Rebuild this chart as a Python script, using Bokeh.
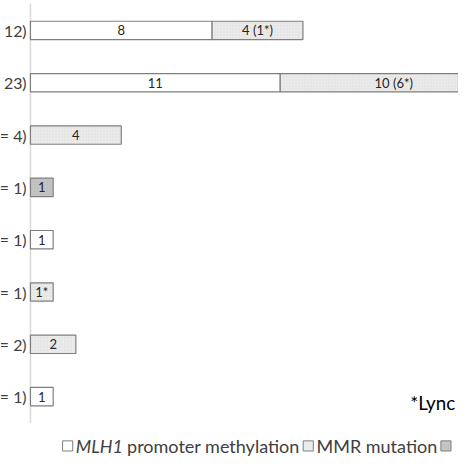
from bokeh.plotting import figure
from bokeh.models import Range1d, ColumnDataSource
from bokeh.core.properties import value
from bokeh.embed import file_html
from bokeh.resources import INLINE

# ---- data ----
categories = ["12)", "23)", "= 4)", "= 1)", "= 1)", "= 1)", "= 2)", "= 1)"]
methylation = [8, 11, 0, 0, 1, 0, 0, 1]
methylation_labels = ["8", "11", "", "", "1", "", "", "1"]
mmr_mutation = [4, 10, 4, 0, 0, 1, 2, 0]
mmr_labels = ["4 (1*)", "10 (6*)", "4", "", "", "1*", "2", ""]
third_series = [0, 0, 0, 1, 0, 0, 0, 0]
third_labels = ["", "", "", "1", "", "", "", ""]
legend_labels = ["MLH1", "promoter methylation", "MMR mutation"]
note_text = "*Lync"

W = H = 458
S = W / 474.0
UX = 23.5      # reference px per unit
UY = 54.14     # reference px per row
X0 = 31.0
Y0 = 31.0

def dx(rx):
    return (rx - X0) / UX

def dy(ry):
    return (ry - Y0) / UY

FONT = "Lato"
TXT = "#404040"

p = figure(width=W, height=H, output_backend="svg", toolbar_location=None,
           x_range=Range1d(dx(0), dx(474)), y_range=Range1d(dy(474), dy(0)),
           x_axis_location=None, y_axis_location=None, min_border=0,
           outline_line_color=None, background_fill_color="white")
p.xgrid.visible = False
p.ygrid.visible = False

# axis line
p.segment(x0=[0], y0=[dy(3)], x1=[0], y1=[dy(437)], line_color="#d9d9d9", line_width=1.5)

rows = list(range(len(categories)))
bh = 19 / UY

def add_series(vals, labels, lefts, fill, hatch=None):
    src = dict(y=[], left=[], right=[], mid=[], lab=[])
    for i, v, l, lf in zip(rows, vals, labels, lefts):
        if v > 0:
            src["y"].append(i)
            src["left"].append(lf)
            src["right"].append(lf + v)
            src["mid"].append(lf + v / 2)
            src["lab"].append(l)
    cds = ColumnDataSource(src)
    kw = {}
    if hatch:
        kw = dict(hatch_pattern="dot", hatch_color=hatch, hatch_scale=3, hatch_alpha=0.35)
    p.hbar(y="y", left="left", right="right", height=bh, source=cds,
           fill_color=fill, line_color="#7f7f7f", line_width=1.2, **kw)
    p.text(x="mid", y="y", text="lab", source=cds, text_align="center",
           text_baseline="middle", text_font=value(FONT), text_font_size=f"{13.5*S:.1f}px",
           text_color="#262626")

zeros = [0] * len(rows)
add_series(methylation, methylation_labels, zeros, "white")
add_series(mmr_mutation, mmr_labels, methylation, "#ebebeb", "#c0c0c0")
add_series(third_series, third_labels, [m + r for m, r in zip(methylation, mmr_mutation)], "#c4c4c4", "#a0a0a0")

# category labels
p.text(x=[dx(27)] * len(rows), y=rows, text=categories, text_align="right",
       text_baseline="middle", text_font=value(FONT), text_font_size=f"{16.5*S:.1f}px",
       text_color=TXT)

# note
p.text(x=[dx(424)], y=[dy(416)], text=[note_text], text_align="left",
       text_baseline="middle", text_font=value(FONT), text_font_size=f"{19.5*S:.1f}px",
       text_color="#000000")

# legend
ly = dy(461)
sq = 10.5
p.rect(x=[dx(69.5), dx(318.5), dx(461)], y=[ly] * 3, width=[sq / UX] * 3, height=[sq / UY] * 3,
       fill_color=["white", "#ebebeb", "#c4c4c4"], line_color="#7f7f7f", line_width=1)
p.text(x=[dx(78)], y=[ly], text=[legend_labels[0]], text_align="left", text_baseline="middle",
       text_font=value(FONT), text_font_size=f"{18.5*S:.1f}px", text_font_style="italic",
       text_color=TXT)
p.text(x=[dx(131), dx(327)], y=[ly, ly], text=legend_labels[1:], text_align="left",
       text_baseline="middle", text_font=value(FONT), text_font_size=f"{18.6*S:.1f}px",
       text_color=TXT)

open("out.html", "w").write(file_html(p, INLINE))
